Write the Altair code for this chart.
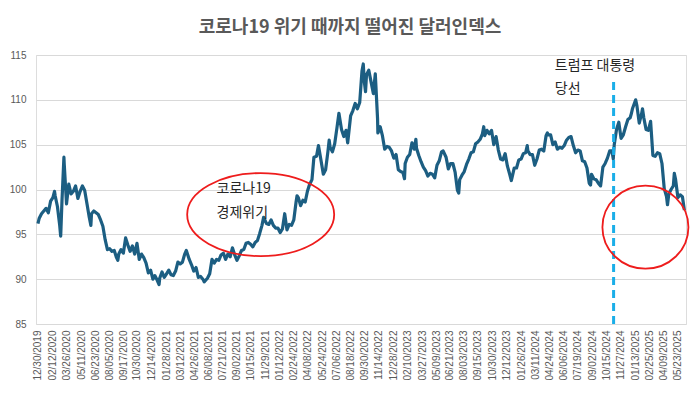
import altair as alt
import pandas as pd

TITLE = "코로나19 위기 때까지 떨어진 달러인덱스"

# Dollar index, roughly weekly readings
dates = [
 "2019-12-30","2020-01-03","2020-01-10","2020-01-17","2020-01-24","2020-01-31","2020-02-07","2020-02-14","2020-02-19","2020-02-21",
 "2020-02-28","2020-03-06","2020-03-09","2020-03-13","2020-03-19","2020-03-20","2020-03-27","2020-04-03","2020-04-10","2020-04-17",
 "2020-04-24","2020-05-01","2020-05-08","2020-05-15","2020-05-22","2020-05-29","2020-06-05","2020-06-10","2020-06-12","2020-06-19",
 "2020-06-26","2020-07-03","2020-07-10","2020-07-17","2020-07-24","2020-07-31","2020-08-07","2020-08-14","2020-08-21","2020-08-28",
 "2020-09-01","2020-09-04","2020-09-11","2020-09-18","2020-09-25","2020-10-02","2020-10-09","2020-10-16","2020-10-23","2020-10-30",
 "2020-11-06","2020-11-13","2020-11-20","2020-11-27","2020-12-04","2020-12-11","2020-12-18","2020-12-24","2020-12-31",
 "2021-01-06","2021-01-08","2021-01-15","2021-01-22","2021-01-29","2021-02-05","2021-02-12","2021-02-19","2021-02-26","2021-03-05",
 "2021-03-12","2021-03-19","2021-03-26","2021-03-31","2021-04-09","2021-04-16","2021-04-23","2021-04-30","2021-05-07","2021-05-14",
 "2021-05-21","2021-05-25","2021-06-04","2021-06-11","2021-06-18","2021-06-25","2021-07-02","2021-07-09","2021-07-16","2021-07-23",
 "2021-07-30","2021-08-06","2021-08-13","2021-08-20","2021-08-27","2021-09-03","2021-09-10","2021-09-17","2021-09-24","2021-10-01",
 "2021-10-08","2021-10-15","2021-10-22","2021-10-29","2021-11-05","2021-11-12","2021-11-19","2021-11-24","2021-12-03","2021-12-10",
 "2021-12-17","2021-12-24","2021-12-31",
 "2022-01-07","2022-01-14","2022-01-21","2022-01-28","2022-02-04","2022-02-11","2022-02-18","2022-02-25","2022-03-04","2022-03-07",
 "2022-03-11","2022-03-18","2022-03-25","2022-04-01","2022-04-08","2022-04-14","2022-04-22","2022-04-28","2022-05-06","2022-05-12",
 "2022-05-20","2022-05-27","2022-06-03","2022-06-10","2022-06-14","2022-06-17","2022-06-24","2022-07-01","2022-07-08","2022-07-14",
 "2022-07-22","2022-07-29","2022-08-05","2022-08-10","2022-08-19","2022-08-26","2022-09-02","2022-09-09","2022-09-16","2022-09-23",
 "2022-09-27","2022-09-30","2022-10-04","2022-10-07","2022-10-14","2022-10-21","2022-10-28","2022-11-03","2022-11-10","2022-11-11",
 "2022-11-18","2022-11-25","2022-12-02","2022-12-09","2022-12-16","2022-12-23","2022-12-30",
 "2023-01-06","2023-01-13","2023-01-20","2023-01-27","2023-02-01","2023-02-03","2023-02-10","2023-02-17","2023-02-24","2023-03-03",
 "2023-03-08","2023-03-10","2023-03-17","2023-03-24","2023-03-31","2023-04-07","2023-04-14","2023-04-21","2023-04-28","2023-05-05",
 "2023-05-12","2023-05-19","2023-05-26","2023-05-31","2023-06-09","2023-06-16","2023-06-23","2023-06-30","2023-07-07","2023-07-14",
 "2023-07-18","2023-07-21","2023-07-28","2023-08-04","2023-08-11","2023-08-18","2023-08-25","2023-09-01","2023-09-08","2023-09-15",
 "2023-09-22","2023-09-29","2023-10-03","2023-10-06","2023-10-13","2023-10-20","2023-10-27","2023-11-03","2023-11-10","2023-11-17",
 "2023-11-24","2023-12-01","2023-12-08","2023-12-15","2023-12-22","2023-12-27","2023-12-29",
 "2024-01-05","2024-01-12","2024-01-19","2024-01-26","2024-02-02","2024-02-09","2024-02-14","2024-02-16","2024-02-23","2024-03-01",
 "2024-03-08","2024-03-15","2024-03-22","2024-03-29","2024-04-05","2024-04-12","2024-04-16","2024-04-19","2024-04-26","2024-05-03",
 "2024-05-10","2024-05-17","2024-05-24","2024-05-31","2024-06-07","2024-06-14","2024-06-21","2024-06-28","2024-07-05","2024-07-12",
 "2024-07-19","2024-07-26","2024-08-02","2024-08-09","2024-08-16","2024-08-23","2024-08-27","2024-08-30","2024-09-06","2024-09-13",
 "2024-09-20","2024-09-27","2024-10-04","2024-10-11","2024-10-18","2024-10-25","2024-11-01","2024-11-05","2024-11-08","2024-11-15",
 "2024-11-22","2024-11-29","2024-12-06","2024-12-13","2024-12-20","2024-12-27","2024-12-31",
 "2025-01-03","2025-01-10","2025-01-13","2025-01-17","2025-01-24","2025-01-31","2025-02-03","2025-02-07","2025-02-14","2025-02-21",
 "2025-02-28","2025-03-07","2025-03-14","2025-03-21","2025-03-28","2025-04-04","2025-04-11","2025-04-18","2025-04-21","2025-04-25",
 "2025-05-02","2025-05-09","2025-05-12","2025-05-16","2025-05-23","2025-05-30","2025-06-06","2025-06-12",
]
values = [
 96.2,96.8,97.3,97.6,97.9,97.4,98.7,99.1,99.8,99.3,
 98.1,96.0,94.8,98.7,103.6,102.8,98.4,100.6,99.5,99.8,
 100.4,99.0,99.8,100.4,99.9,98.4,96.9,96.0,97.3,97.6,
 97.4,97.2,96.6,95.9,94.4,93.3,93.4,93.1,93.2,92.4,
 92.1,92.8,93.3,92.9,94.6,93.8,93.1,93.7,92.8,94.0,
 92.2,92.8,92.4,91.8,90.7,91.0,90.0,90.4,89.9,
 89.4,90.1,90.8,90.2,90.6,91.0,90.5,90.4,90.9,91.9,
 91.7,91.9,92.8,93.2,92.2,91.6,90.9,91.3,90.2,90.3,
 90.0,89.7,90.1,90.6,92.2,91.8,92.2,92.1,92.7,92.9,
 92.2,92.8,92.5,93.5,92.7,92.1,92.6,93.2,93.3,94.0,
 94.1,93.9,93.6,94.1,94.3,95.1,96.0,96.9,96.2,96.1,
 96.6,96.0,95.7,
 95.7,95.2,95.6,97.3,95.5,96.1,96.0,96.6,98.6,99.3,
 99.1,98.2,98.8,98.6,99.8,100.5,101.1,103.6,103.7,104.9,
 103.2,101.7,102.2,104.2,105.5,104.7,104.2,105.1,106.9,108.5,
 106.7,105.9,106.6,105.2,108.2,108.8,109.6,109.0,109.7,113.2,
 114.0,112.1,110.9,112.8,113.3,112.0,110.7,112.9,107.9,106.3,
 107.0,106.0,104.5,104.8,104.7,104.3,103.5,
 103.9,102.2,102.0,101.9,101.2,102.9,103.6,103.9,105.2,104.5,
 105.6,104.6,103.8,103.1,102.5,102.1,101.5,101.8,101.7,101.3,
 102.7,103.2,104.2,104.3,103.6,102.3,102.9,102.9,101.9,99.9,
 99.6,101.1,101.6,102.0,102.8,103.4,104.1,104.2,105.1,105.3,
 105.6,106.2,107.0,106.0,106.6,106.2,106.6,105.0,105.9,104.4,
 103.4,103.3,104.0,102.6,101.7,101.0,101.3,
 102.4,102.4,103.3,103.4,104.0,104.1,104.9,104.3,103.9,103.9,
 102.7,103.4,104.4,104.5,104.3,106.0,106.3,106.1,106.1,105.0,
 105.3,104.5,104.7,104.6,104.9,105.5,105.8,105.9,104.9,104.1,
 104.4,104.3,103.2,103.1,102.4,100.7,100.5,101.7,101.2,101.1,
 100.7,100.4,102.5,102.9,103.5,104.3,104.3,103.4,105.0,106.7,
 107.5,105.7,106.1,107.0,107.8,108.0,108.5,
 109.0,109.7,110.0,109.3,107.4,108.4,109.0,108.0,106.7,106.6,
 107.6,103.8,103.7,104.1,104.0,102.9,100.1,99.2,98.3,99.5,
 100.0,100.4,101.8,101.1,99.1,99.4,99.2,97.7,
]

# x-axis tick labels (category positions in the original)
tick_dates = [
 "2019-12-30","2020-02-12","2020-03-26","2020-05-11","2020-06-23","2020-08-05","2020-09-17","2020-10-30","2020-12-14",
 "2021-01-28","2021-03-12","2021-04-26","2021-06-08","2021-07-21","2021-09-02","2021-10-15","2021-11-29",
 "2022-01-12","2022-02-24","2022-04-08","2022-05-24","2022-07-06","2022-08-18","2022-09-30","2022-11-14","2022-12-28",
 "2023-02-10","2023-03-27","2023-05-09","2023-06-21","2023-08-03","2023-09-15","2023-10-30","2023-12-12",
 "2024-01-26","2024-03-11","2024-04-24","2024-06-06","2024-07-19","2024-09-02","2024-10-15","2024-11-27",
 "2025-01-13","2025-02-25","2025-04-09","2025-05-23",
]
y_ticks = [85, 90, 95, 100, 105, 110, 115]

# annotations
election_date = ["2024-11-06"]
election_top = [112.0]
note_dates = ["2024-05-09", "2024-05-09", "2021-07-02", "2021-07-02"]
note_values = [113.8, 111.2, 100.1, 97.4]
note_texts = ["트럼프 대통령", "당선", "코로나19", "경제위기"]
circle_dates = ["2021-11-15", "2025-02-12"]
circle_values = [97.2, 95.8]


def to_dt(s):
    y, m, d = s.split("-")
    return alt.DateTime(year=int(y), month=int(m), date=int(d), utc=True)


df = pd.DataFrame({"date": dates, "value": values})
notes = pd.DataFrame({"date": note_dates, "value": note_values, "text": note_texts})
vline = pd.DataFrame({"date": election_date, "top": election_top, "bottom": [85.0]})
circles = pd.DataFrame({"date": circle_dates, "value": circle_values})

xscale = alt.Scale(type="utc", domain=[to_dt("2019-12-24"), to_dt("2025-06-17")])
yscale = alt.Scale(domain=[85, 115], nice=False, zero=False)

x_axis = alt.Axis(
    values=[to_dt(d) for d in tick_dates], tickCount=len(tick_dates) + 10,
    labelExpr="utcFormat(datum.value, '%m/%d/%Y')",
    labelAngle=270, labelOverlap=False, labelBound=False, labelFlush=False,
    labelFontSize=10, labelColor="#595959",
    labelFont="Liberation Sans", ticks=False, domain=False, grid=False,
    labelPadding=6, title=None,
)
y_axis = alt.Axis(
    values=y_ticks, labelFontSize=10, labelColor="#595959", labelFont="Liberation Sans",
    ticks=False, domain=False, grid=True, gridColor="#d9d9d9", gridWidth=1,
    labelPadding=10, title=None,
)

line = alt.Chart(df).mark_line(color="#1c5e82", strokeWidth=3.2, strokeJoin="round").encode(
    x=alt.X("date:T", scale=xscale, axis=x_axis),
    y=alt.Y("value:Q", scale=yscale, axis=y_axis),
)

rule = alt.Chart(vline).mark_rule(color="#1aaee8", strokeWidth=3, strokeDash=[8, 5]).encode(
    x="date:T", y="top:Q", y2="bottom:Q"
)

text = alt.Chart(notes).mark_text(
    align="left", baseline="middle", fontSize=14, font="Noto Sans CJK KR", color="#262626"
).encode(x="date:T", y="value:Q", text="text:N")


def ellipse_path(a):
    k = 0.5523
    return (f"M -1 0 C -1 {-k*a:.4f} {-k:.4f} {-a:.4f} 0 {-a:.4f} "
            f"C {k:.4f} {-a:.4f} 1 {-k*a:.4f} 1 0 "
            f"C 1 {k*a:.4f} {k:.4f} {a:.4f} 0 {a:.4f} "
            f"C {-k:.4f} {a:.4f} -1 {k*a:.4f} -1 0 Z")


e1 = alt.Chart(circles.iloc[[0]]).mark_point(
    shape=ellipse_path(41.5 / 73.5), filled=False, stroke="#ee1c1c", strokeWidth=1.8, opacity=1
).encode(x="date:T", y="value:Q", size=alt.value(147 * 147))

e2 = alt.Chart(circles.iloc[[1]]).mark_point(
    shape=ellipse_path(41.5 / 43.0), filled=False, stroke="#ee1c1c", strokeWidth=1.8, opacity=1
).encode(x="date:T", y="value:Q", size=alt.value(86 * 86))

chart = alt.layer(line, rule, text, e1, e2).properties(
    width=650, height=269,
    autosize=alt.AutoSizeParams(type="none"),
    padding={"left": 28, "top": 47, "right": 6, "bottom": 60},
    title=alt.TitleParams(
        TITLE, font="Noto Sans CJK KR", fontSize=18, fontWeight="bold", color="#595959",
        anchor="middle", dx=-11, offset=13,
    ),
).configure_view(stroke=None).configure(background="white")

chart.save("out.html", embed_options={"renderer": "svg", "actions": False})
